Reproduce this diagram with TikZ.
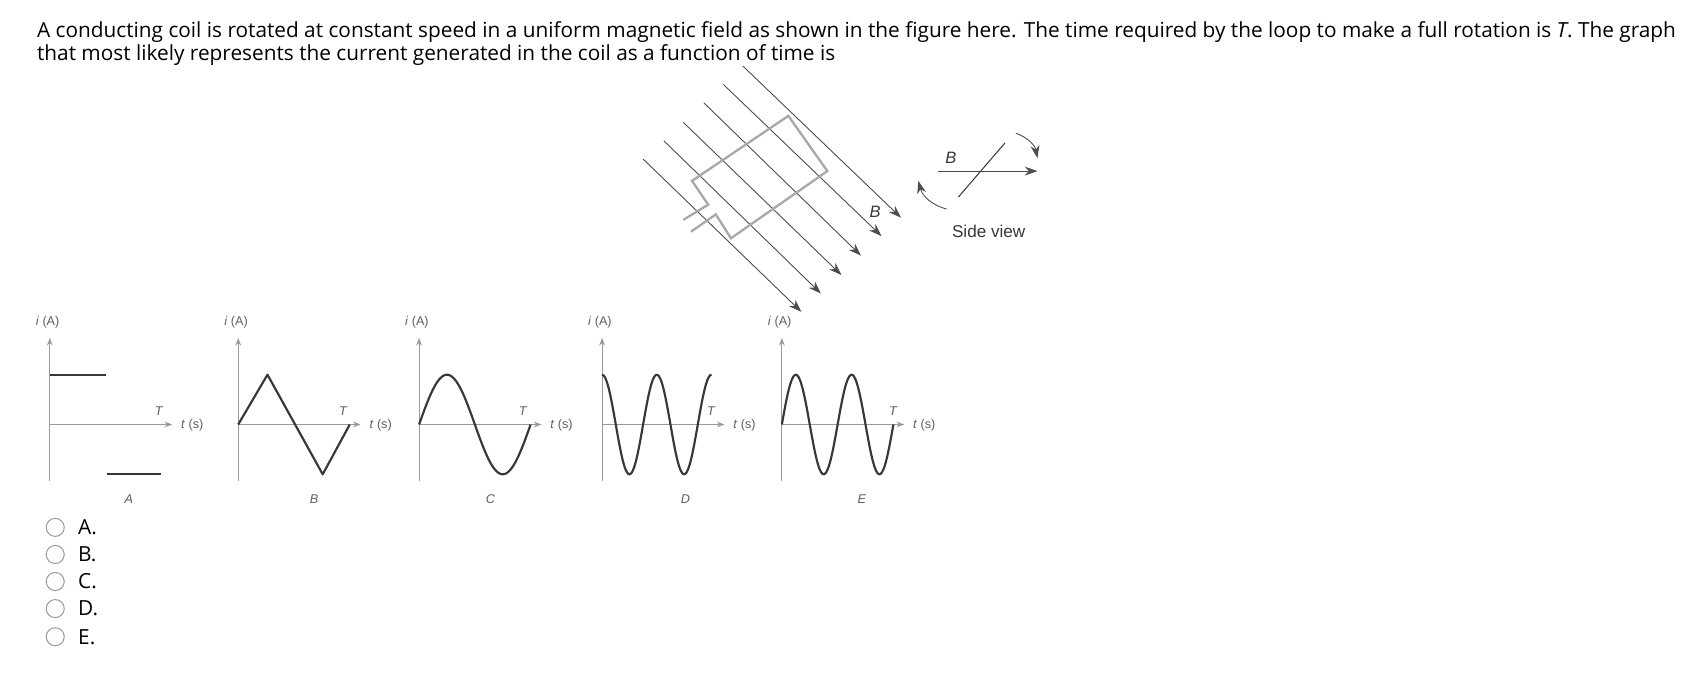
\documentclass[tikz,border=0pt]{standalone}
\usepackage{fontspec}
\setmainfont{Open Sans}
\newfontfamily\lab{Liberation Sans}
\usetikzlibrary{arrows.meta}
\definecolor{ax}{HTML}{9A9A9A}
\definecolor{cv}{HTML}{383838}
\definecolor{coil}{HTML}{A8A8A8}
\tikzset{
  axis/.style={draw=ax, line width=0.9pt, -{Stealth[length=6pt,width=4.5pt]}},
  curve/.style={draw=cv, line width=1.7pt, line join=round},
  fld/.style={draw=cv!90, line width=0.7pt, -{Stealth[length=10pt,width=7pt]}},
  small/.style={font=\lab\fontsize{10}{11}\selectfont, text=cv!80, inner sep=0pt},
  qtext/.style={font=\fontsize{16.4}{19}\selectfont, anchor=base west, inner sep=0pt},
  opt/.style={draw=ax, line width=0.8pt, circle, minimum size=0.5cm, inner sep=0pt},
}
\begin{document}
\begin{tikzpicture}[x=0.03cm,y=-0.03cm]
\useasboundingbox[fill=white] (0,0) rectangle (1568,624);
\node[qtext] (q1) at (34,35) {A conducting coil is rotated at constant speed in a uniform magnetic field as shown in the figure here. The time required by the loop to make a full rotation is \textit{T}. The graph};
\node[qtext] (q2) at (34,56) {that most likely represents the current generated in the coil as a function of time is};
% field lines
\foreach \a/\b/\c/\d in {686/61/832/201, 668/78/814/218, 650/95/795/236, 631/113/777/254, 613/130/758/271, 594/147/740/288}{
  \draw[fld] (\a,\b) -- (\c,\d);
}
% coil
\draw[coil, line width=1.8pt, line join=miter] (631,203) -- (654,189) -- (639,167) -- (728,107) -- (764,158) -- (675,220) -- (661,198) -- (638,214);
\node[font=\lab\itshape\fontsize{13}{14}\selectfont, text=cv, fill=white, inner sep=0.5pt] (bl) at (808,196) {B};
% side view
\draw[fld, line width=0.8pt] (866,158) -- (958,158);
\node[font=\lab\itshape\fontsize{13}{14}\selectfont, text=cv] (bs) at (878,146) {B};
\draw[draw=cv, line width=0.8pt] (928,132) -- (885,182);
\draw[fld] (938,123) to[bend left=30] (958,146);
\draw[fld] (874,193) to[bend left=30] (848,167);
\node[font=\lab\fontsize{13.5}{15}\selectfont, text=cv] (sv) at (913,214) {Side view};
% graphs
\foreach \x/\L/\lx in {46/A/119, 220/B/290, 387/C/453, 556/D/633, 722/E/796}{
  \draw[axis] (\x,444) -- (\x,312);
  \draw[axis] (\x,392) -- (\x+113,392);
  \node[small] at (\x-2,298) {\textit{i} (A)};
  \node[small, anchor=west] at (\x+121,393) {\textit{t} (s)};
  \node[small] at (\lx,461) {\textit{\L}};
}
\foreach \tx in {147,317,483,657,825}{ \node[small] at (\tx,380) {\textit{T}}; }
% A
\draw[curve] (46,346) -- (98,346);
\draw[curve] (99,438) -- (149,438);
% B
\draw[curve] (220,392) -- (247,346) -- (298,438) -- (323,392);
% C
\draw[curve] plot[domain=0:103, samples=60, smooth] ({387+\x},{392-46*sin(\x/103*360)});
% D
\draw[curve] plot[domain=0:101, samples=80, smooth] ({556+\x},{392-46*cos(\x/101*720)});
% E
\draw[curve] plot[domain=0:103, samples=80, smooth] ({722+\x},{392-46*sin(\x/103*720)});
% options
\foreach \y/\t [count=\i] in {487/A., 512/B., 537/C., 562/D., 588/E.}{
  \node[opt] (o\i) at (51,\y) {};
  \node[font=\fontsize{16.4}{19}\selectfont, anchor=west, inner sep=0pt] (t\i) at (72,\y) {\t};
}
\end{tikzpicture}
\end{document}
